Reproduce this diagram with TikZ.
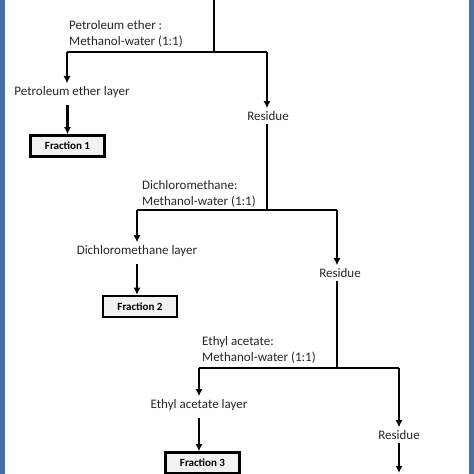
\documentclass[tikz,border=0pt]{standalone}
\usepackage{fontspec}
\setmainfont{Carlito}
\usetikzlibrary{arrows.meta,positioning}
\definecolor{frameblue}{RGB}{70,110,170}
\definecolor{boxgray}{RGB}{242,242,242}
\tikzset{
  txt/.style={font=\fontsize{13}{16}\selectfont, inner sep=3pt, text=black!85},
  solvent/.style={txt, align=left, anchor=west},
  fraction/.style={draw, line width=2.6pt, fill=boxgray, minimum width=74pt, minimum height=21pt, inner sep=0pt, font=\fontsize{11}{13}\selectfont\bfseries},
  link/.style={line width=2.2pt}
}
\begin{document}
\begin{tikzpicture}[x=1pt,y=-1pt,>={Latex[length=7pt,width=7pt]}]
  \clip (0,0) rectangle (474,474);
  \fill[frameblue] (0,0) rectangle (5,474);
  \fill[frameblue] (469,0) rectangle (474,474);
  % first partition
  \coordinate (top) at (214,-2);
  \coordinate (j1) at (214,52);
  \coordinate (j1l) at (67,52);
  \coordinate (j1r) at (267,52);
  \node[solvent] (s1) at (66,33.5) {Petroleum ether :\\Methanol-water (1:1)};
  \node[txt] (pel) at (72,92) {Petroleum ether layer};
  \node[txt] (res1) at (268,116) {Residue};
  \node[fraction] (f1) at (67.5,146) {Fraction 1};
  \draw[link] (top) -- (j1);
  \draw[link] (j1l) -- (j1r);
  \draw[link,->] (j1l) -- (j1l |- pel.north);
  \draw[link,->] (j1r) -- (j1r |- res1.north);
  \draw[link,->,shorten <=4pt] (f1.north |- pel.south) -- (f1.north);
  % second partition
  \coordinate (j2) at (267,210);
  \coordinate (j2l) at (137,210);
  \coordinate (j2r) at (337,210);
  \node[solvent] (s2) at (139,193.5) {Dichloromethane:\\Methanol-water (1:1)};
  \node[txt] (dcm) at (137,251) {Dichloromethane layer};
  \node[txt] (res2) at (340,273) {Residue};
  \node[fraction] (f2) at (140,306.5) {Fraction 2};
  \draw[link] (j2 |- res1.south) -- (j2);
  \draw[link] (j2l) -- (j2r);
  \draw[link,->] (j2l) -- (j2l |- dcm.north);
  \draw[link,->] (j2r) -- (j2r |- res2.north);
  \draw[link,->,shorten <=4pt] (j2l |- dcm.south) -- (j2l |- f2.north);
  % third partition
  \coordinate (j3) at (337,368);
  \coordinate (j3l) at (199,368);
  \coordinate (j3r) at (399,368);
  \coordinate (bottom) at (399,473);
  \node[solvent] (s3) at (199,349.5) {Ethyl acetate:\\Methanol-water (1:1)};
  \node[txt] (eal) at (199,405) {Ethyl acetate layer};
  \node[txt] (res3) at (399,435) {Residue};
  \node[fraction] (f3) at (202.5,463) {Fraction 3};
  \draw[link] (j3 |- res2.south) -- (j3);
  \draw[link] (j3l) -- (j3r);
  \draw[link,->] (j3l) -- (j3l |- eal.north);
  \draw[link,->] (j3r) -- (j3r |- res3.north);
  \draw[link,->,shorten <=4pt] (j3l |- eal.south) -- (j3l |- f3.north);
  \draw[link,->] (res3.south) -- (bottom);
\end{tikzpicture}
\end{document}
